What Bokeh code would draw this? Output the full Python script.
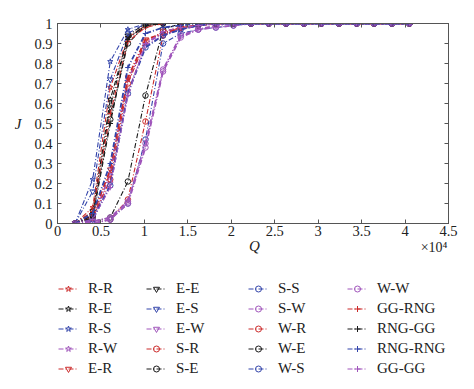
from bokeh.plotting import figure
from bokeh.layouts import column
from bokeh.models import Legend, LegendItem, LinearAxis, FixedTicker, Label, Range1d
from bokeh.embed import file_html
from bokeh.resources import INLINE

# Q values (in units of 10^4)
Q = [0.2025, 0.405, 0.6075, 0.81, 1.0125, 1.215, 1.4175, 1.62, 1.8225, 2.025,
     2.2275, 2.43, 2.6325, 2.835, 3.0375, 3.24, 3.4425, 3.645, 3.8475, 4.05]

R_R = [0, 0.08, 0.68, 0.93, 0.99, 1, 1, 1, 1, 1, 1, 1, 1, 1, 1, 1, 1, 1, 1, 1]
R_E = [0, 0.05, 0.62, 0.93, 0.99, 1, 1, 1, 1, 1, 1, 1, 1, 1, 1, 1, 1, 1, 1, 1]
R_S = [0, 0.22, 0.81, 0.97, 1, 1, 1, 1, 1, 1, 1, 1, 1, 1, 1, 1, 1, 1, 1, 1]
R_W = [0, 0.02, 0.25, 0.72, 0.9, 0.95, 0.97, 0.99, 1, 1, 1, 1, 1, 1, 1, 1, 1, 1, 1, 1]
E_R = [0, 0.04, 0.27, 0.73, 0.92, 0.95, 0.98, 0.99, 1, 1, 1, 1, 1, 1, 1, 1, 1, 1, 1, 1]
E_E = [0, 0.06, 0.58, 0.94, 1, 1, 1, 1, 1, 1, 1, 1, 1, 1, 1, 1, 1, 1, 1, 1]
E_S = [0, 0.16, 0.72, 0.95, 1, 1, 1, 1, 1, 1, 1, 1, 1, 1, 1, 1, 1, 1, 1, 1]
E_W = [0, 0.03, 0.2, 0.66, 0.89, 0.94, 0.97, 0.99, 1, 1, 1, 1, 1, 1, 1, 1, 1, 1, 1, 1]
S_R = [0, 0.0, 0.02, 0.12, 0.51, 0.94, 0.98, 0.99, 1, 1, 1, 1, 1, 1, 1, 1, 1, 1, 1, 1]
S_E = [0, 0.01, 0.03, 0.21, 0.64, 0.97, 1, 1, 1, 1, 1, 1, 1, 1, 1, 1, 1, 1, 1, 1]
S_S = [0, 0.0, 0.02, 0.1, 0.42, 0.9, 0.95, 0.97, 0.98, 0.99, 1, 1, 1, 1, 1, 1, 1, 1, 1, 1]
S_W = [0, 0.0, 0.02, 0.1, 0.38, 0.76, 0.93, 0.97, 0.98, 0.99, 1, 1, 1, 1, 1, 1, 1, 1, 1, 1]
W_R = [0, 0.03, 0.22, 0.7, 0.91, 0.96, 0.98, 0.99, 1, 1, 1, 1, 1, 1, 1, 1, 1, 1, 1, 1]
W_E = [0, 0.04, 0.52, 0.9, 0.99, 1, 1, 1, 1, 1, 1, 1, 1, 1, 1, 1, 1, 1, 1, 1]
W_S = [0, 0.02, 0.19, 0.65, 0.88, 0.94, 0.97, 0.99, 1, 1, 1, 1, 1, 1, 1, 1, 1, 1, 1, 1]
W_W = [0, 0.01, 0.03, 0.11, 0.4, 0.77, 0.94, 0.97, 0.99, 1, 1, 1, 1, 1, 1, 1, 1, 1, 1, 1]
GG_RNG = [0, 0.06, 0.55, 0.91, 0.98, 1, 1, 1, 1, 1, 1, 1, 1, 1, 1, 1, 1, 1, 1, 1]
RNG_GG = [0, 0.03, 0.5, 0.92, 0.99, 1, 1, 1, 1, 1, 1, 1, 1, 1, 1, 1, 1, 1, 1, 1]
RNG_RNG = [0, 0.05, 0.3, 0.78, 0.95, 0.98, 0.99, 1, 1, 1, 1, 1, 1, 1, 1, 1, 1, 1, 1, 1]
GG_GG = [0, 0.02, 0.18, 0.64, 0.9, 0.96, 0.98, 0.99, 1, 1, 1, 1, 1, 1, 1, 1, 1, 1, 1, 1]

labels = ["R-R", "R-E", "R-S", "R-W", "E-R", "E-E", "E-S", "E-W", "S-R", "S-E",
          "S-S", "S-W", "W-R", "W-E", "W-S", "W-W", "GG-RNG", "RNG-GG", "RNG-RNG", "GG-GG"]
values = [R_R, R_E, R_S, R_W, E_R, E_E, E_S, E_W, S_R, S_E,
          S_S, S_W, W_R, W_E, W_S, W_W, GG_RNG, RNG_GG, RNG_RNG, GG_GG]

x_ticks = [0, 0.5, 1, 1.5, 2, 2.5, 3, 3.5, 4, 4.5]
x_tick_labels = ["0", "0.5", "1", "1.5", "2", "2.5", "3", "3.5", "4", "4.5"]
y_ticks = [0, 0.1, 0.2, 0.3, 0.4, 0.5, 0.6, 0.7, 0.8, 0.9, 1]
y_tick_labels = ["0", "0.1", "0.2", "0.3", "0.4", "0.5", "0.6", "0.7", "0.8", "0.9", "1"]

RED, BLACK, BLUE, PURPLE = "#cc2a2a", "#1a1a1a", "#3344aa", "#a055bb"
color_cycle = [RED, BLACK, BLUE, PURPLE]
marker_for = {"R": "star", "E": "inverted_triangle", "S": "circle", "W": "circle",
              "G": "cross"}
thick = {"R-W", "E-R", "W-S", "W-W", "S-W", "RNG-RNG"}

FONT = "Liberation Serif"
AX = "#555555"
TXT = "#222222"
DASH = "5 2 1 2"

p = figure(frame_width=391, frame_height=200, output_backend="svg", toolbar_location=None,
           x_range=Range1d(0, 4.5), y_range=Range1d(0, 1),
           min_border_left=57, min_border_right=26, min_border_top=23, min_border_bottom=16,
           outline_line_color=AX, outline_line_width=1)
p.xgrid.visible = False
p.ygrid.visible = False

# legend / caption strip below the plot; its dummy renderers lie outside its ranges
LH = 145
lf = figure(width=474, height=LH, output_backend="svg", toolbar_location=None,
            x_range=Range1d(10, 401), y_range=Range1d(10, 10 + LH),
            x_axis_location=None, y_axis_location=None, outline_line_color=None,
            min_border_left=0, min_border_right=0, min_border_top=0, min_border_bottom=0)
lf.xgrid.visible = False
lf.ygrid.visible = False

items = []
for i, (lab, ys) in enumerate(zip(labels, values)):
    c = color_cycle[i % 4]
    key = lab[0] if not lab.startswith(("GG", "RNG")) else "G"
    m = marker_for[key]
    lw = 1.8 if lab in thick else 1.1
    p.line(Q, ys, line_color=c, line_width=lw, line_dash=DASH)
    p.scatter(Q, ys, marker=m, size=5.5, line_color=c, fill_color=None, line_width=1)
    lr = lf.line(Q, ys, line_color=c, line_width=1.2, line_dash=DASH)
    sr = lf.scatter(Q, ys, marker=m, size=5.5, line_color=c, fill_color=None, line_width=1)
    items.append(LegendItem(label=lab, renderers=[lr, sr]))

for ax in p.xaxis + p.yaxis:
    ax.axis_line_color = AX
    ax.major_tick_line_color = AX
    ax.major_tick_in = 4
    ax.major_tick_out = 0
    ax.minor_tick_line_color = None
    ax.major_label_text_font = FONT
    ax.major_label_text_font_size = "14.5px"
    ax.major_label_text_color = TXT
    ax.axis_label_text_font = FONT
    ax.axis_label_text_font_size = "15px"
    ax.axis_label_text_font_style = "italic"
    ax.axis_label_text_color = TXT

p.xaxis.ticker = FixedTicker(ticks=x_ticks)
p.xaxis.major_label_overrides = dict(zip(x_ticks, x_tick_labels))
p.yaxis.ticker = FixedTicker(ticks=y_ticks)
p.yaxis.major_label_overrides = dict(zip(y_ticks, y_tick_labels))
p.yaxis.axis_label = "J"
p.yaxis.axis_label_orientation = "horizontal"
p.xaxis.major_label_standoff = 2
p.yaxis.major_label_standoff = 5
p.yaxis.axis_label_standoff = 10

top = LinearAxis(ticker=FixedTicker(ticks=x_ticks),
                 major_label_overrides={t: "" for t in x_ticks},
                 axis_line_color=AX, major_tick_line_color=AX, major_tick_in=4,
                 major_tick_out=0, minor_tick_line_color=None, major_label_standoff=0)
right = LinearAxis(ticker=FixedTicker(ticks=y_ticks),
                   major_label_overrides={t: "" for t in y_ticks},
                   axis_line_color=AX, major_tick_line_color=AX, major_tick_in=4,
                   major_tick_out=0, minor_tick_line_color=None, major_label_standoff=0)
p.add_layout(top, "above")
p.add_layout(right, "right")

# x-axis title and exponent, placed at the top of the strip (px from strip frame left / top)
lf.add_layout(Label(x=10 + 197, y=10 + LH + 2, text="Q", text_font=FONT,
                    text_font_size="15px", text_font_style="italic", text_color=TXT,
                    text_align="center", text_baseline="top"))
lf.add_layout(Label(x=10 + 390, y=10 + LH, text="×10⁴", text_font=FONT,
                    text_font_size="14px", text_color=TXT, text_align="right",
                    text_baseline="top"))

col_x = [1, 89, 191, 290]
for k in range(4):
    lg = Legend(items=items[5 * k:5 * k + 5], orientation="vertical", location=(col_x[k], 7),
                label_text_font=FONT, label_text_font_size="15px", label_text_color=TXT,
                glyph_width=20, glyph_height=15, label_height=15, spacing=3,
                label_standoff=10, padding=0, margin=0, border_line_color=None,
                background_fill_alpha=0)
    lf.add_layout(lg)

layout = column(p, lf, spacing=0)
open("out.html", "w").write(file_html(layout, INLINE))
